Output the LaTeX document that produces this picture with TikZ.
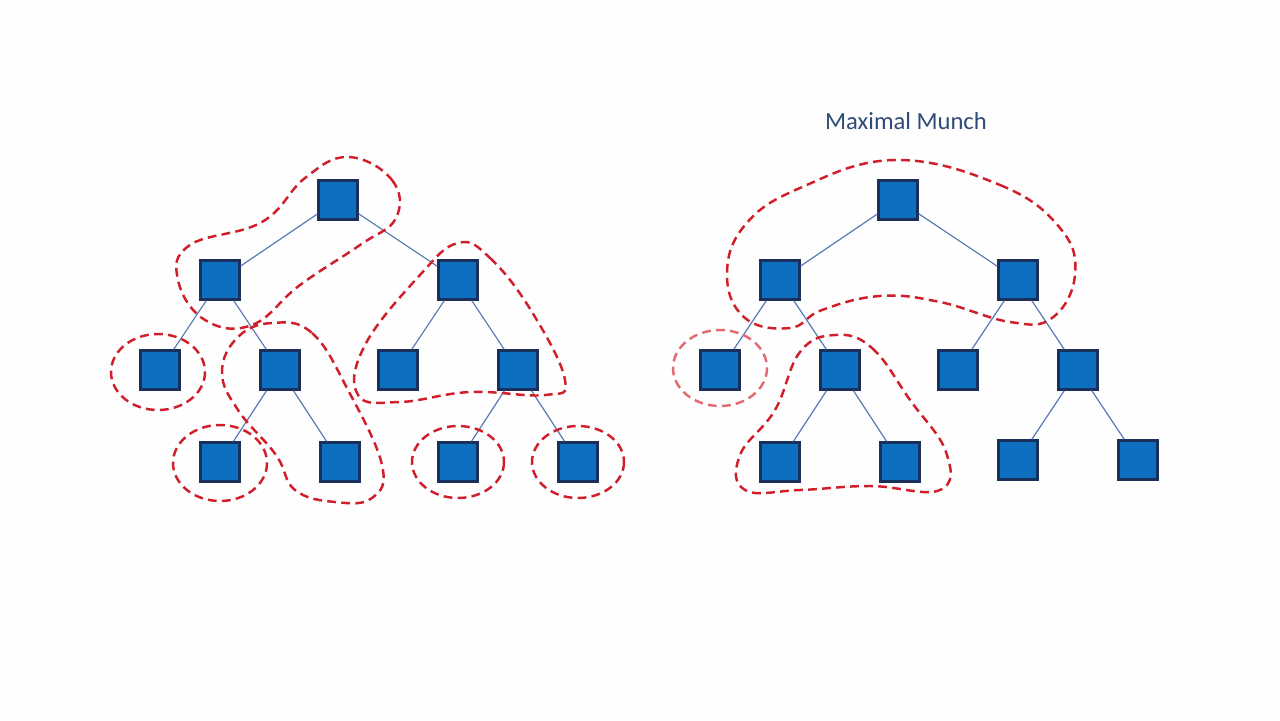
\documentclass[tikz,border=0pt]{standalone}
\usepackage{fontspec}
\setmainfont{Carlito}
\begin{document}
\begin{tikzpicture}[x=0.02cm,y=-0.02cm,
  sq/.style={draw=navy,fill=sqblue,line width=1.3pt,minimum size=0.78cm,inner sep=0pt},
  edge/.style={draw=edgec,line width=0.7pt},
  blob/.style={draw=redd,dashed,line width=1.4pt,dash pattern=on 5pt off 3pt},
  lblob/.style={draw=redl,dashed,line width=1.4pt,dash pattern=on 5pt off 3pt}]
\definecolor{navy}{HTML}{1A2F5A}
\definecolor{sqblue}{HTML}{0C6FBF}
\definecolor{edgec}{HTML}{5A7DB4}
\definecolor{redd}{HTML}{D01F2A}
\definecolor{redl}{HTML}{E06C72}
\definecolor{titlec}{HTML}{2F4C78}
\useasboundingbox[fill=white!99!gray] (0,0) rectangle (1280,720);
% left tree
\node[sq] (a) at (338,200) {};
\node[sq] (b) at (220,280) {};
\node[sq] (c) at (458,280) {};
\node[sq] (d) at (160,370) {};
\node[sq] (e) at (280,370) {};
\node[sq] (f) at (398,370) {};
\node[sq] (g) at (518,370) {};
\node[sq] (h) at (220,462) {};
\node[sq] (i) at (340,462) {};
\node[sq] (j) at (458,462) {};
\node[sq] (k) at (578,462) {};
\foreach \u/\v in {a/b,a/c,b/d,b/e,c/f,c/g,e/h,e/i,g/j,g/k} \draw[edge] (\u) -- (\v);
% right tree
\node[sq] (A) at (898,200) {};
\node[sq] (B) at (780,280) {};
\node[sq] (C) at (1018,280) {};
\node[sq] (D) at (720,370) {};
\node[sq] (E) at (840,370) {};
\node[sq] (F) at (958,370) {};
\node[sq] (G) at (1078,370) {};
\node[sq] (H) at (780,462) {};
\node[sq] (I) at (900,462) {};
\node[sq] (J) at (1018,460) {};
\node[sq] (K) at (1138,460) {};
\foreach \u/\v in {A/B,A/C,B/D,B/E,C/F,C/G,E/H,E/I,G/J,G/K} \draw[edge] (\u) -- (\v);
\node[text=titlec,font=\fontsize{14pt}{16pt}\selectfont] (t) at (906,121) {Maximal Munch};
% left blobs
\draw[blob] plot[smooth cycle,tension=0.7] coordinates {(348,157) (392,180) (396,218) (360,245) (300,285) (252,325) (205,320) (178,280) (190,245) (262,222) (305,178)};
\draw[blob] (158,372) ellipse [x radius=47,y radius=38];
\draw[blob] plot[smooth cycle,tension=0.7] coordinates {(272,323) (312,333) (348,390) (382,465) (372,498) (335,502) (295,490) (276,455) (238,410) (222,372) (238,337)};
\draw[blob] plot[smooth cycle,tension=0.7] coordinates {(458,243) (490,258) (532,312) (565,380) (545,395) (470,392) (400,402) (358,395) (365,345) (420,275)};
\draw[blob] (220,463) ellipse [x radius=47,y radius=38];
\draw[blob] (458,462) ellipse [x radius=46,y radius=36];
\draw[blob] (578,462) ellipse [x radius=46,y radius=36];
% right blobs
\draw[blob] plot[smooth cycle,tension=0.7] coordinates {(895,160) (1000,185) (1060,228) (1075,275) (1052,318) (1010,322) (940,302) (880,296) (822,310) (790,328) (745,318) (727,275) (745,225) (800,188)};
\draw[lblob] (720,368) ellipse [x radius=47,y radius=38];
\draw[blob] plot[smooth cycle,tension=0.7] coordinates {(835,335) (872,348) (910,400) (946,452) (940,490) (870,486) (800,490) (745,490) (740,455) (775,410) (800,352)};
\end{tikzpicture}
\end{document}
